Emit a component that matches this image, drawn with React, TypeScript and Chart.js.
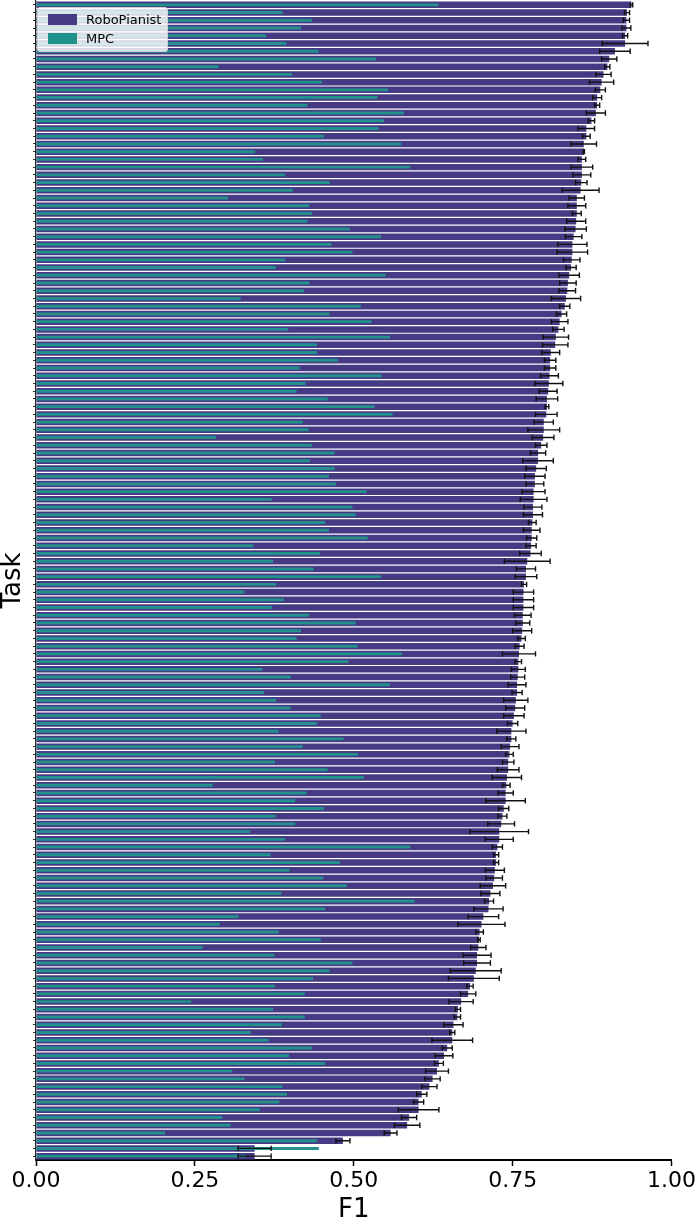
import { useEffect, useRef } from "react";
import { Chart, registerables } from "chart.js";

Chart.register(...registerables);

// F1 per task, sorted as in the figure (top row first)
const roboF1 = [
  0.937, 0.930, 0.929, 0.929, 0.927, 0.927, 0.911, 0.902, 0.899, 0.893,
  0.890, 0.888, 0.883, 0.883, 0.881, 0.874, 0.866, 0.866, 0.862, 0.862,
  0.859, 0.859, 0.859, 0.858, 0.857, 0.851, 0.851, 0.851, 0.850, 0.849,
  0.846, 0.844, 0.844, 0.843, 0.842, 0.839, 0.837, 0.836, 0.834, 0.832,
  0.827, 0.824, 0.822, 0.818, 0.817, 0.810, 0.809, 0.809, 0.808, 0.807,
  0.806, 0.804, 0.804, 0.803, 0.799, 0.799, 0.798, 0.795, 0.790, 0.790,
  0.787, 0.785, 0.785, 0.783, 0.783, 0.782, 0.782, 0.781, 0.780, 0.780,
  0.779, 0.778, 0.773, 0.771, 0.771, 0.768, 0.767, 0.767, 0.767, 0.766,
  0.766, 0.765, 0.764, 0.761, 0.760, 0.759, 0.759, 0.758, 0.757, 0.757,
  0.755, 0.754, 0.752, 0.750, 0.748, 0.748, 0.746, 0.745, 0.743, 0.743,
  0.741, 0.740, 0.739, 0.739, 0.736, 0.734, 0.732, 0.729, 0.729, 0.726,
  0.724, 0.724, 0.722, 0.721, 0.719, 0.715, 0.713, 0.712, 0.704, 0.701,
  0.698, 0.697, 0.696, 0.694, 0.694, 0.692, 0.689, 0.683, 0.680, 0.669,
  0.664, 0.663, 0.657, 0.655, 0.655, 0.647, 0.642, 0.634, 0.631, 0.624,
  0.619, 0.607, 0.602, 0.602, 0.587, 0.584, 0.558, 0.483, 0.344, 0.344,
];

const roboErr = [
  0.002, 0.004, 0.005, 0.007, 0.004, 0.036, 0.024, 0.012, 0.004, 0.012,
  0.019, 0.008, 0.007, 0.004, 0.015, 0.005, 0.013, 0.006, 0.020, 0.001,
  0.006, 0.017, 0.014, 0.009, 0.029, 0.012, 0.014, 0.007, 0.015, 0.017,
  0.013, 0.023, 0.024, 0.013, 0.008, 0.016, 0.013, 0.013, 0.023, 0.008,
  0.008, 0.013, 0.009, 0.020, 0.020, 0.014, 0.009, 0.009, 0.014, 0.022,
  0.014, 0.017, 0.003, 0.017, 0.015, 0.025, 0.017, 0.009, 0.012, 0.024,
  0.016, 0.016, 0.014, 0.018, 0.021, 0.014, 0.015, 0.006, 0.013, 0.008,
  0.008, 0.017, 0.036, 0.015, 0.017, 0.004, 0.016, 0.016, 0.016, 0.013,
  0.011, 0.015, 0.006, 0.007, 0.026, 0.005, 0.011, 0.011, 0.014, 0.008,
  0.019, 0.015, 0.016, 0.008, 0.023, 0.007, 0.014, 0.006, 0.009, 0.017,
  0.023, 0.006, 0.012, 0.031, 0.008, 0.007, 0.021, 0.046, 0.022, 0.008,
  0.004, 0.004, 0.015, 0.013, 0.020, 0.015, 0.007, 0.023, 0.024, 0.037,
  0.006, 0.002, 0.012, 0.022, 0.021, 0.040, 0.040, 0.005, 0.012, 0.019,
  0.004, 0.005, 0.015, 0.004, 0.032, 0.008, 0.014, 0.007, 0.018, 0.012,
  0.012, 0.008, 0.008, 0.032, 0.012, 0.020, 0.010, 0.011, 0.026, 0.026,
];

const mpcF1 = [
  0.633, 0.388, 0.434, 0.417, 0.362, 0.394, 0.445, 0.535, 0.287, 0.403,
  0.450, 0.554, 0.537, 0.427, 0.579, 0.548, 0.539, 0.453, 0.575, 0.345,
  0.357, 0.589, 0.392, 0.462, 0.404, 0.302, 0.430, 0.434, 0.427, 0.494,
  0.543, 0.465, 0.498, 0.392, 0.377, 0.550, 0.430, 0.422, 0.322, 0.511,
  0.462, 0.528, 0.397, 0.557, 0.442, 0.442, 0.475, 0.415, 0.544, 0.424,
  0.410, 0.459, 0.533, 0.561, 0.420, 0.429, 0.283, 0.434, 0.470, 0.431,
  0.470, 0.461, 0.472, 0.520, 0.371, 0.498, 0.503, 0.455, 0.461, 0.522,
  0.342, 0.447, 0.373, 0.437, 0.543, 0.378, 0.328, 0.390, 0.371, 0.430,
  0.503, 0.417, 0.410, 0.506, 0.576, 0.492, 0.356, 0.401, 0.557, 0.359,
  0.378, 0.401, 0.448, 0.442, 0.382, 0.484, 0.420, 0.507, 0.376, 0.459,
  0.516, 0.278, 0.426, 0.408, 0.453, 0.377, 0.408, 0.337, 0.392, 0.589,
  0.369, 0.478, 0.399, 0.452, 0.489, 0.386, 0.596, 0.455, 0.319, 0.289,
  0.382, 0.448, 0.262, 0.375, 0.498, 0.462, 0.436, 0.376, 0.423, 0.244,
  0.373, 0.423, 0.387, 0.338, 0.366, 0.434, 0.398, 0.455, 0.309, 0.328,
  0.388, 0.395, 0.383, 0.352, 0.293, 0.306, 0.203, 0.442, 0.445, 0.330,
];

const tasks = roboF1.map((_, i) => `Task ${i + 1}`);
const xTicks = [0, 0.25, 0.5, 0.75, 1];

const PURPLE = "#463a85";
const GREEN = "#21918c";

const errorBars = {
  id: "errorBars",
  afterDatasetsDraw(chart: any) {
    const { ctx } = chart;
    const xs = chart.scales.x;
    const ys = chart.scales.y;
    ctx.save();
    ctx.strokeStyle = "#111";
    ctx.lineWidth = 1.4;
    roboF1.forEach((v, i) => {
      const py = ys.getPixelForValue(i);
      const x0 = xs.getPixelForValue(v - roboErr[i]);
      const x1 = xs.getPixelForValue(v + roboErr[i]);
      ctx.beginPath();
      ctx.moveTo(x0, py);
      ctx.lineTo(x1, py);
      ctx.moveTo(x0, py - 2.7);
      ctx.lineTo(x0, py + 2.7);
      ctx.moveTo(x1, py - 2.7);
      ctx.lineTo(x1, py + 2.7);
      ctx.stroke();
    });
    ctx.restore();
  },
};

const Legend = () => {
  const row = (color: string, label: string, top: number) => (
    <div style={{ position: "absolute", left: 10, top, display: "flex", alignItems: "center" }}>
      <div style={{ width: 29, height: 11, background: color, marginRight: 9 }} />
      <span style={{ fontSize: 13, lineHeight: "13px", color: "#000" }}>{label}</span>
    </div>
  );
  return (
    <div
      style={{
        position: "absolute",
        left: 37,
        top: 7,
        width: 129,
        height: 43,
        background: "rgba(255,255,255,0.8)",
        border: "1px solid #d0d0d0",
        borderRadius: 3,
        fontFamily: "DejaVu Sans",
      }}
    >
      {row(PURPLE, "RoboPianist", 5)}
      {row(GREEN, "MPC", 24)}
    </div>
  );
};

export default function App() {
  const canvasRef = useRef<HTMLCanvasElement>(null);
  const chartRef = useRef<Chart | null>(null);

  useEffect(() => {
    document.body.style.margin = "0";
    if (!canvasRef.current) return;
    Chart.defaults.font.family = "DejaVu Sans";

    const config: any = {
      type: "bar",
      data: {
        labels: tasks,
        datasets: [
          {
            label: "RoboPianist",
            data: roboF1,
            backgroundColor: PURPLE,
            barPercentage: 0.84,
            categoryPercentage: 1,
            grouped: false,
            order: 1,
          },
          {
            label: "MPC",
            data: mpcF1,
            backgroundColor: GREEN,
            barPercentage: 0.38,
            categoryPercentage: 1,
            grouped: false,
            order: 0,
          },
        ],
      },
      options: {
        indexAxis: "y",
        animation: false,
        responsive: true,
        maintainAspectRatio: false,
        layout: { padding: { top: 1, right: 26, left: 0, bottom: 0 } },
        plugins: {
          legend: { display: false },
          tooltip: { enabled: false },
        },
        scales: {
          x: {
            type: "linear",
            min: 0,
            max: 1,
            afterBuildTicks: (scale: any) => {
              scale.ticks = xTicks.map((v) => ({ value: v }));
            },
            afterFit: (scale: any) => {
              scale.height = 67;
            },
            ticks: {
              callback: (v: any) => Number(v).toFixed(2),
              color: "#000",
              font: { size: 22 },
              padding: 2,
              maxRotation: 0,
            },
            grid: {
              drawOnChartArea: false,
              drawTicks: true,
              tickLength: 6,
              tickColor: "#000",
              tickWidth: 1.5,
            },
            border: { display: true, color: "#000", width: 2 },
            title: {
              display: true,
              text: "F1",
              color: "#000",
              font: { size: 26, lineHeight: 1 },
              padding: { top: 0, bottom: 4 },
            },
          },
          y: {
            type: "category",
            afterFit: (scale: any) => {
              scale.width = 36;
            },
            ticks: { display: false, autoSkip: false },
            grid: {
              drawOnChartArea: false,
              drawTicks: true,
              tickLength: 3,
              tickColor: "#333",
              tickWidth: 1,
              offset: false,
            },
            border: { display: true, color: "#222", width: 1.2 },
            title: {
              display: true,
              text: "Task",
              color: "#000",
              font: { size: 26, lineHeight: 1 },
              padding: 0,
            },
          },
        },
      },
      plugins: [errorBars],
    };

    chartRef.current?.destroy();
    chartRef.current = new Chart(canvasRef.current, config);

    return () => {
      chartRef.current?.destroy();
      chartRef.current = null;
    };
  }, []);

  return (
    <div style={{ position: "relative", width: 698, height: 1227 }}>
      <canvas ref={canvasRef} />
      <Legend />
    </div>
  );
}
